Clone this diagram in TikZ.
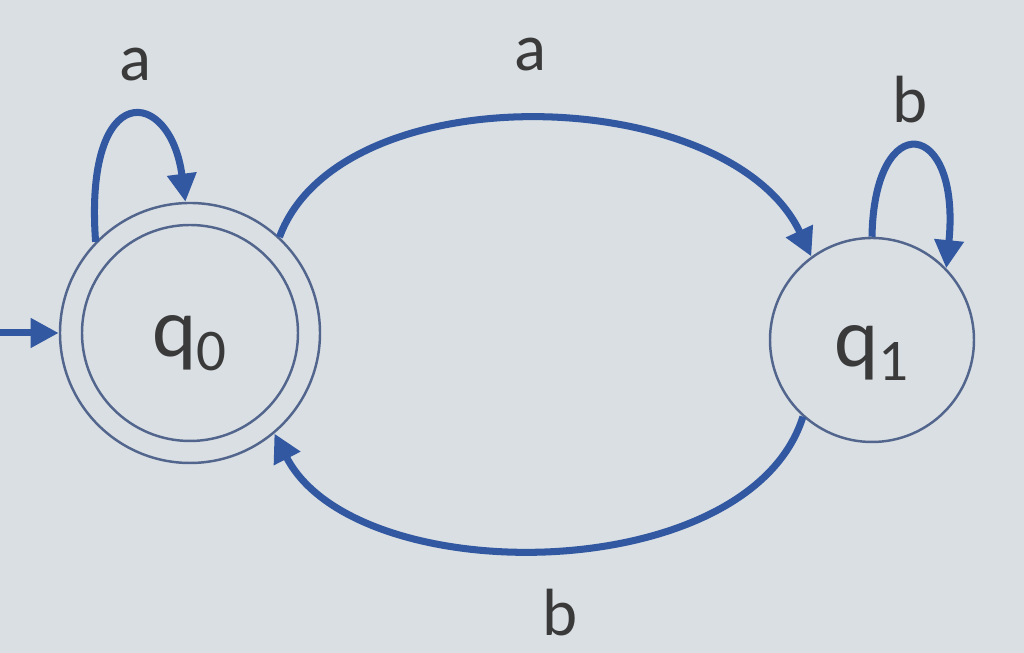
\documentclass[tikz,border=0pt]{standalone}
\usepackage{fontspec}
\setmainfont{Carlito}
\usetikzlibrary{arrows.meta}
\definecolor{paper}{HTML}{DADFE4}
\definecolor{edgeblue}{HTML}{3158A0}
\definecolor{ringblue}{HTML}{52658C}
\definecolor{ink}{HTML}{3A3A3A}

\begin{document}
\begin{tikzpicture}[
  state/.style={circle, draw=ringblue, line width=0.7pt, inner sep=0pt, font=\fontsize{24}{26}\selectfont, text=ink},
  edge/.style={draw=edgeblue, line width=2pt, -{Triangle[length=8pt,width=8pt]}},
  lbl/.style={font=\fontsize{19}{21}\selectfont, text=ink}
]

% paper size:
\pgfmathsetmacro\pwidth{10.24};
\pgfmathsetmacro\pheight{6.53};

\fill[paper] (0,0) rectangle (\pwidth,\pheight);
\useasboundingbox (0,0) rectangle (\pwidth,\pheight);

% states:
\node[state, minimum size=2.6cm] (q0) at (1.90,3.20) {};
\node[state, minimum size=2.16cm] (q0in) at (q0) {\raisebox{-0.24cm}[0pt][0pt]{q\textsubscript{0}}};
\node[state, minimum size=2.04cm] (q1) at (8.72,3.13) {\raisebox{-0.27cm}[0pt][0pt]{q\textsubscript{1}}};

% start arrow:
\coordinate (start) at (0,3.20);
\draw[edge] (start) -- (q0.west);

% transitions:
\draw[edge] (q0.136) .. controls +(-0.12,1.65) and +(-0.15,1.15) .. (q0.92);
\draw[edge] (q0.47) .. controls +(0.61,1.65) and +(-0.82,1.74) .. (q1.126);
\draw[edge] (q1.228) .. controls +(-0.54,-1.72) and +(0.81,-1.58) .. (q0.310);
\draw[edge] (q1.90) .. controls +(0.02,1.3) and +(0.15,1.5) .. (q1.44);

% labels:
\node[lbl] (la0) at (1.35,5.88) {a};
\node[lbl] (la1) at (5.30,5.98) {a};
\node[lbl] (lb1) at (9.10,5.53) {b};
\node[lbl] (lb0) at (5.60,0.40) {b};

\end{tikzpicture}
\end{document}
